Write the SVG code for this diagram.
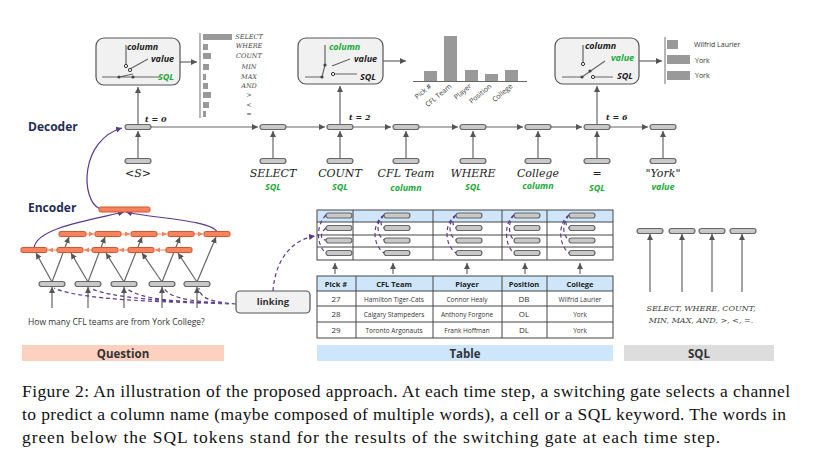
<svg xmlns="http://www.w3.org/2000/svg" width="813" height="467" viewBox="0 0 813 467">
<style>
.c{fill:#c8c8c8;stroke:#666;stroke-width:1.2}
.o{fill:#f4845f;stroke:#d9532a;stroke-width:1}
.ln{stroke:#666;stroke-width:1.2;fill:none}
.pu{stroke:#5b3a8c;stroke-width:1.2;fill:none}
.pd{stroke:#5b3a8c;stroke-width:1.2;fill:none;stroke-dasharray:4 3}
.gate{fill:#f1f1f1;stroke:#555;stroke-width:1.2}
.gi{font:italic bold 9px "Open Sans",sans-serif;fill:#222}
.gg{font:italic bold 9px "Open Sans",sans-serif;fill:#1aaa3a}
.tk{font:italic 11px "DejaVu Serif",serif;fill:#222;text-anchor:middle}
.kw{font:italic 6.5px "DejaVu Serif",serif;fill:#444;text-anchor:middle}
.sm{font:7px "Open Sans",sans-serif;fill:#333}
.tb{font:6.5px "Open Sans",sans-serif;fill:#333;text-anchor:middle}
.tn{font:8px "Open Sans",sans-serif;fill:#333;text-anchor:middle}
.th{font:bold 7.5px "Open Sans",sans-serif;fill:#222;text-anchor:middle}
.bar{fill:#999}
.hd{font:bold 12px "Open Sans",sans-serif;fill:#1f2d55}
.lb{font:bold 11.5px "Open Sans",sans-serif;fill:#333;text-anchor:middle}
.lk{font:bold 9.5px "Open Sans",sans-serif;fill:#333;text-anchor:middle}
.sq{font:italic 8px "DejaVu Serif",serif;fill:#444;text-anchor:middle}
.cap{font:17.5px "Liberation Serif",serif;fill:#111}
.t{font:italic bold 8px "DejaVu Serif",serif;fill:#222}
</style>
<defs>
<marker id="a" markerWidth="6" markerHeight="6" refX="5" refY="3" orient="auto"><path d="M0,0.5 L5,3 L0,5.5z" fill="#555"/></marker>
<marker id="ap" markerWidth="6" markerHeight="6" refX="5" refY="3" orient="auto"><path d="M0,0.5 L5,3 L0,5.5z" fill="#5b3a8c"/></marker>
<marker id="ao" markerWidth="6" markerHeight="6" refX="5" refY="3" orient="auto"><path d="M0,0.5 L5,3 L0,5.5z" fill="#f4845f"/></marker>
<rect id="cell" width="26" height="5" rx="2.5"/>
</defs>

<text class="hd" x="28" y="131">Decoder</text>
<text class="hd" x="28" y="212">Encoder</text>

<g id="gate0">
<rect class="gate" x="96" y="38" width="84" height="47" rx="8"/>
<path class="ln" d="M126,45 V64 M130,69 L148,59 M102,77 H160 M119,77 L133,74" stroke-width="1"/>
<circle cx="126" cy="66" r="1.6" fill="#fff" stroke="#333"/><circle cx="130" cy="70" r="1.6" fill="#fff" stroke="#333"/>
<circle cx="119" cy="77" r="1.6" fill="#444"/><circle cx="133" cy="77" r="1.6" fill="#444"/>
<text class="gi" x="127" y="50">column</text><text class="gi" x="151" y="62">value</text><text class="gg" x="158" y="80">SQL</text>
</g>
<g id="gate2">
<rect class="gate" x="298" y="38" width="85" height="46" rx="8"/>
<path class="ln" d="M325,45 V65 L322,77 H305 M333,74 H357 M332,66 L350,59" stroke-width="1"/>
<circle cx="325" cy="65" r="1.6" fill="#444"/><circle cx="322" cy="77" r="1.6" fill="#444"/><circle cx="333" cy="74" r="1.6" fill="#fff" stroke="#333"/>
<text class="gg" x="329" y="50">column</text><text class="gi" x="354" y="62">value</text><text class="gi" x="360" y="80">SQL</text>
</g>
<g id="gate6">
<rect class="gate" x="555" y="38" width="84" height="46" rx="8"/>
<path class="ln" d="M583,45 V63 M582,77 H562 M582,77 L605,61 M593,77 H613" stroke-width="1"/>
<circle cx="583" cy="64" r="1.6" fill="#fff" stroke="#333"/><circle cx="590" cy="71" r="1.6" fill="#444"/><circle cx="582" cy="77" r="1.6" fill="#444"/><circle cx="593" cy="77" r="1.6" fill="#fff" stroke="#333"/>
<text class="gi" x="585" y="49">column</text><text class="gg" x="611" y="61">value</text><text class="gi" x="617" y="79">SQL</text>
</g>

<g id="chart0">
<line x1="200" y1="33" x2="200" y2="118" stroke="#888" stroke-width="1.2"/>
<rect class="bar" x="203" y="34" width="29" height="6"/><rect class="bar" x="203" y="44" width="5" height="6"/><rect class="bar" x="203" y="53" width="8" height="6"/><rect class="bar" x="203" y="64" width="6" height="6"/><rect class="bar" x="203" y="74" width="3" height="6"/><rect class="bar" x="203" y="83" width="5" height="6"/><rect class="bar" x="203" y="92" width="8" height="6"/><rect class="bar" x="203" y="102" width="6" height="6"/><rect class="bar" x="203" y="111" width="3" height="6"/>
<g class="kw"><text x="249" y="39">SELECT</text><text x="249" y="48">WHERE</text><text x="249" y="58">COUNT</text><text x="249" y="69">MIN</text><text x="249" y="79">MAX</text><text x="249" y="88">AND</text><text x="249" y="97">&gt;</text><text x="249" y="107">&lt;</text><text x="249" y="116">=</text></g>
</g>
<g id="chart2">
<rect class="bar" x="424" y="71" width="13" height="10"/><rect class="bar" x="444" y="36" width="13" height="45"/><rect class="bar" x="465" y="70" width="13" height="11"/><rect class="bar" x="485" y="74" width="13" height="7"/><rect class="bar" x="505" y="70" width="13" height="11"/>
<line x1="413" y1="81.5" x2="527" y2="81.5" stroke="#666" stroke-width="1"/>
<g class="sm" text-anchor="end">
<text transform="translate(432,87) rotate(-40)">Pick #</text><text transform="translate(452,87) rotate(-40)">CFL Team</text><text transform="translate(472,87) rotate(-40)">Player</text><text transform="translate(492,87) rotate(-40)">Position</text><text transform="translate(513,87) rotate(-40)">College</text></g>
</g>
<g id="chart6">
<line x1="665" y1="37" x2="665" y2="84" stroke="#888" stroke-width="1.2"/>
<rect class="bar" x="667" y="40" width="11" height="9"/><rect class="bar" x="667" y="55" width="23" height="9"/><rect class="bar" x="667" y="71" width="23" height="9"/>
<text class="sm" x="694" y="47">Wilfrid Laurier</text><text class="sm" x="695" y="63">York</text><text class="sm" x="695" y="78">York</text>
</g>

<g id="connectors" class="ln" marker-end="url(#a)">
<line x1="151" y1="127" x2="258" y2="127"/><line x1="286" y1="127" x2="325" y2="127"/><line x1="353" y1="127" x2="391" y2="127"/><line x1="419" y1="127" x2="458" y2="127"/><line x1="486" y1="127" x2="523" y2="127"/><line x1="551" y1="127" x2="582" y2="127"/><line x1="610" y1="127" x2="648" y2="127"/>
<line x1="138" y1="158" x2="138" y2="131"/><line x1="273" y1="158" x2="273" y2="131"/><line x1="340" y1="158" x2="340" y2="131"/><line x1="406" y1="158" x2="406" y2="131"/><line x1="473" y1="158" x2="473" y2="131"/><line x1="538" y1="158" x2="538" y2="131"/><line x1="597" y1="158" x2="597" y2="131"/><line x1="663" y1="158" x2="663" y2="131"/>
<line x1="138" y1="124" x2="138" y2="87"/><line x1="340" y1="124" x2="340" y2="86"/><line x1="597" y1="124" x2="597" y2="86"/>
<line x1="180" y1="62" x2="197" y2="62"/><line x1="383" y1="61" x2="406" y2="61"/><line x1="639" y1="61" x2="662" y2="61"/>
</g>
<path class="pu" d="M100,209 C80,200 80,140 122,128" marker-end="url(#ap)"/>
<g id="decoder" class="c">
<use href="#cell" x="125" y="124.5"/><use href="#cell" x="260" y="124.5"/><use href="#cell" x="327" y="124.5"/><use href="#cell" x="393" y="124.5"/><use href="#cell" x="460" y="124.5"/><use href="#cell" x="525" y="124.5"/><use href="#cell" x="584" y="124.5"/><use href="#cell" x="650" y="124.5"/>
<use href="#cell" x="125" y="158.5"/><use href="#cell" x="260" y="158.5"/><use href="#cell" x="327" y="158.5"/><use href="#cell" x="393" y="158.5"/><use href="#cell" x="460" y="158.5"/><use href="#cell" x="525" y="158.5"/><use href="#cell" x="584" y="158.5"/><use href="#cell" x="650" y="158.5"/>
</g>
<text class="t" x="145" y="122">t = 0</text><text class="t" x="349" y="120">t = 2</text><text class="t" x="606" y="120">t = 6</text>
<g id="tokens">
<text class="tk" x="138" y="177">&lt;S&gt;</text><text class="tk" x="273" y="177">SELECT</text><text class="tk" x="340" y="177">COUNT</text><text class="tk" x="406" y="177">CFL Team</text><text class="tk" x="473" y="177">WHERE</text><text class="tk" x="538" y="177">College</text><text class="tk" x="597" y="177">=</text><text class="tk" x="663" y="177">"York"</text>
<g class="gg" text-anchor="middle"><text x="273" y="190">SQL</text><text x="340" y="190">SQL</text><text x="406" y="191">column</text><text x="473" y="190">SQL</text><text x="538" y="189">column</text><text x="597" y="191">SQL</text><text x="663" y="190">value</text></g>
</g>

<g id="encoder">
<g class="ln" marker-end="url(#a)">
<line x1="52" y1="282" x2="36" y2="253"/><line x1="52" y1="282" x2="69" y2="237"/><line x1="88" y1="282" x2="71" y2="253"/><line x1="88" y1="282" x2="105" y2="237"/><line x1="124" y1="282" x2="106" y2="253"/><line x1="124" y1="282" x2="142" y2="237"/><line x1="162" y1="282" x2="142" y2="253"/><line x1="162" y1="282" x2="180" y2="237"/><line x1="197" y1="282" x2="178" y2="253"/><line x1="197" y1="282" x2="216" y2="237"/>
<line x1="52" y1="308" x2="52" y2="287"/><line x1="88" y1="308" x2="88" y2="287"/><line x1="124" y1="308" x2="124" y2="287"/><line x1="162" y1="308" x2="162" y2="287"/><line x1="197" y1="308" x2="197" y2="287"/>
</g>
<g stroke="#f4845f" marker-end="url(#ao)">
<line x1="86" y1="234" x2="94" y2="234"/><line x1="121" y1="234" x2="130" y2="234"/><line x1="157" y1="234" x2="167" y2="234"/><line x1="194" y1="234" x2="203" y2="234"/>
<line x1="57" y1="250" x2="48" y2="250"/><line x1="92" y1="250" x2="84" y2="250"/><line x1="128" y1="250" x2="119" y2="250"/><line x1="166" y1="250" x2="155" y2="250"/>
</g>
<path class="pu" d="M34,248 C36,228 90,220 124,212" marker-end="url(#ap)"/>
<path class="pu" d="M217,232 C212,220 150,218 126,212" marker-end="url(#ap)"/>
<rect class="o" x="99" y="207" width="51" height="5" rx="1.5"/>
<g class="o"><rect x="59" y="231.5" width="27" height="5" rx="1.5"/><rect x="95" y="231.5" width="26" height="5" rx="1.5"/><rect x="131" y="231.5" width="26" height="5" rx="1.5"/><rect x="168" y="231.5" width="26" height="5" rx="1.5"/><rect x="204" y="231.5" width="26" height="5" rx="1.5"/>
<rect x="21" y="247.5" width="26" height="5" rx="1.5"/><rect x="57" y="247.5" width="26" height="5" rx="1.5"/><rect x="92" y="247.5" width="26" height="5" rx="1.5"/><rect x="128" y="247.5" width="26" height="5" rx="1.5"/><rect x="166" y="247.5" width="26" height="5" rx="1.5"/></g>
<g class="c"><use href="#cell" x="39" y="281.5"/><use href="#cell" x="75" y="281.5"/><use href="#cell" x="111" y="281.5"/><use href="#cell" x="149" y="281.5"/><use href="#cell" x="184" y="281.5"/></g>
</g>
<text x="28" y="325" font-family="Open Sans, sans-serif" font-size="8.5" fill="#333">How many CFL teams are from York College?</text>

<g id="linking">
<path class="pd" d="M236,304 C160,302 80,300 54,288 M236,304 C170,302 110,298 90,288 M236,304 C180,302 140,300 126,288 M236,304 C200,302 170,300 164,288 M236,304 C215,302 200,300 199,288"/>
<path class="pd" d="M273,291 C275,262 290,240 315,236" marker-end="url(#ap)"/>
<rect class="gate" x="236" y="291" width="74" height="22" rx="4"/>
<text class="lk" x="273" y="305">linking</text>
</g>

<g id="table">
<rect x="317" y="210" width="296" height="12" fill="#cfe6fa"/>
<rect x="317" y="210" width="296" height="50" fill="none" stroke="#444"/>
<path d="M317,222 H613 M317,235 H613 M317,247 H613 M353,210 V260 M433,210 V260 M502,210 V260 M547,210 V260" stroke="#444" fill="none"/>
<g class="c">
<use href="#cell" x="326" y="213"/><use href="#cell" x="326" y="225.5"/><use href="#cell" x="326" y="238"/><use href="#cell" x="326" y="250.5"/>
<use href="#cell" x="384" y="213"/><use href="#cell" x="384" y="225.5"/><use href="#cell" x="384" y="238"/><use href="#cell" x="384" y="250.5"/>
<use href="#cell" x="456" y="213"/><use href="#cell" x="456" y="225.5"/><use href="#cell" x="456" y="238"/><use href="#cell" x="456" y="250.5"/>
<use href="#cell" x="514" y="213"/><use href="#cell" x="514" y="225.5"/><use href="#cell" x="514" y="238"/><use href="#cell" x="514" y="250.5"/>
<use href="#cell" x="569" y="213"/><use href="#cell" x="569" y="225.5"/><use href="#cell" x="569" y="238"/><use href="#cell" x="569" y="250.5"/></g>
<path class="pd" d="M326,215 C316,225 316,245 326,253 M326,228 C320,233 320,240 326,240 M384,215 C372,222 372,245 384,253 M384,215 C376,220 376,235 384,240 M384,215 C380,220 380,226 384,228 M456,215 C444,222 444,245 456,253 M456,215 C448,222 448,235 456,240 M456,215 C452,220 452,226 456,228 M514,215 C504,222 504,245 514,253 M514,215 C508,222 508,235 514,240 M569,215 C558,222 558,245 569,253 M569,215 C562,222 562,235 569,240 M569,215 C565,220 565,226 569,228"/>
<g class="ln" marker-end="url(#a)"><line x1="335" y1="274" x2="335" y2="263"/><line x1="393" y1="274" x2="393" y2="263"/><line x1="467" y1="274" x2="467" y2="263"/><line x1="525" y1="274" x2="525" y2="263"/><line x1="580" y1="274" x2="580" y2="263"/></g>
<rect x="317" y="276" width="296" height="15" fill="#cfe6fa"/>
<rect x="317" y="276" width="296" height="62" fill="none" stroke="#444"/>
<path d="M317,291 H613 M317,306 H613 M317,322 H613 M356,276 V338 M433,276 V338 M502,276 V338 M547,276 V338" stroke="#444" fill="none"/>
<text class="th" x="336" y="287">Pick #</text><text class="th" x="394" y="287">CFL Team</text><text class="th" x="467" y="287">Player</text><text class="th" x="524" y="287">Position</text><text class="th" x="580" y="287">College</text>
<text class="tn" x="336" y="302">27</text><text class="tb" x="394" y="302">Hamilton Tiger-Cats</text><text class="tb" x="467" y="302">Connor Healy</text><text class="tn" x="524" y="302">DB</text><text class="tb" x="580" y="302">Wilfrid Laurier</text>
<text class="tn" x="336" y="317">28</text><text class="tb" x="394" y="317">Calgary Stampeders</text><text class="tb" x="467" y="317">Anthony Forgone</text><text class="tn" x="524" y="317">OL</text><text class="tb" x="580" y="317">York</text>
<text class="tn" x="336" y="333">29</text><text class="tb" x="394" y="333">Toronto Argonauts</text><text class="tb" x="467" y="333">Frank Hoffman</text><text class="tn" x="524" y="333">DL</text><text class="tb" x="580" y="333">York</text>
</g>

<g id="sql">
<g class="ln" stroke="#999" marker-end="url(#a)"><line x1="650" y1="292" x2="650" y2="234"/><line x1="682" y1="292" x2="682" y2="234"/><line x1="712" y1="292" x2="712" y2="234"/><line x1="742" y1="292" x2="742" y2="234"/></g>
<g class="c"><use href="#cell" x="637" y="228.5"/><use href="#cell" x="669" y="228.5"/><use href="#cell" x="699" y="228.5"/><use href="#cell" x="730" y="228.5"/></g>
<text class="sq" x="701" y="311">SELECT, WHERE, COUNT,</text><text class="sq" x="701" y="323">MIN, MAX, AND, &gt;, &lt;, =.</text>
</g>

<rect x="22" y="345" width="202" height="16" fill="#fdd0bf"/><text class="lb" x="123" y="358">Question</text>
<rect x="317" y="345" width="296" height="16" fill="#cde6fb"/><text class="lb" x="465" y="358">Table</text>
<rect x="624" y="345" width="150" height="16" fill="#ddd"/><text class="lb" x="699" y="358">SQL</text>

<text class="cap" x="22" y="397" textLength="768" lengthAdjust="spacing">Figure 2: An illustration of the proposed approach. At each time step, a switching gate selects a channel</text>
<text class="cap" x="22" y="420" textLength="764" lengthAdjust="spacing">to predict a column name (maybe composed of multiple words), a cell or a SQL keyword. The words in</text>
<text class="cap" x="22" y="443" textLength="698" lengthAdjust="spacing">green below the SQL tokens stand for the results of the switching gate at each time step.</text>
</svg>
